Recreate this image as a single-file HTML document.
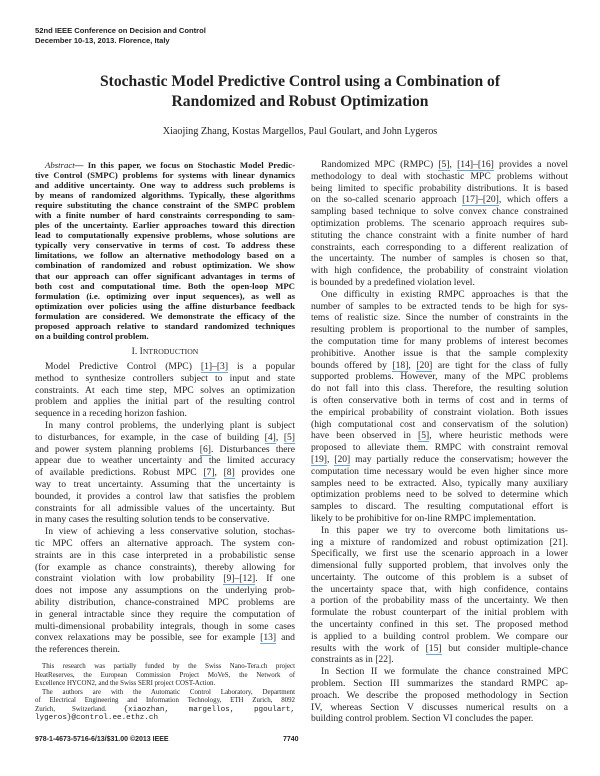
<!DOCTYPE html>
<html><head><meta charset="utf-8">
<style>
body{margin:0;background:#fff;width:600px;height:776px;position:relative;overflow:hidden;color:#222;}
.hd{position:absolute;left:35px;font:bold 7.6px "Liberation Sans",sans-serif;}
.t{position:absolute;left:0;width:600px;text-align:center;font:bold 15.6px "Liberation Serif",serif;}
.au{position:absolute;left:0;width:600px;text-align:center;font:10.2px "Liberation Serif",serif;}
.col{position:absolute;font:9.6px/11.8px "Liberation Serif",serif;}
.col div{text-align:justify;text-align-last:justify;white-space:nowrap;height:11.8px;}
.col div.e{text-align-last:left;}
.col div.i{padding-left:10px;}
.col.ab{font:bold 8.75px/10.06px "Liberation Serif",serif;}
.col.ab div{height:10.06px;}
u{text-decoration:none;border-bottom:1px solid #6aa7d8;}
.fn{position:absolute;left:35px;width:260px;font:6.9px/8.5px "Liberation Serif",serif;}
.fn div{text-align:justify;text-align-last:justify;white-space:nowrap;height:8.5px;}
.fn div.e{text-align-last:left;}
.fn div.i{padding-left:7px;}
.mono{font-family:"Liberation Mono",monospace;font-size:7.6px;}
</style></head><body>
<div class="hd" style="top:26px">52nd IEEE Conference on Decision and Control</div>
<div class="hd" style="top:36px">December 10-13, 2013. Florence, Italy</div>
<div class="t" style="top:73px">Stochastic Model Predictive Control using a Combination of</div>
<div class="t" style="top:93px">Randomized and Robust Optimization</div>
<div class="au" style="top:126px">Xiaojing Zhang, Kostas Margellos, Paul Goulart, and John Lygeros</div>

<div class="col ab" style="left:35px;top:160px;width:260px;">
<div class="i"><i style="font-weight:normal">Abstract</i>— In this paper, we focus on Stochastic Model Predic-</div>
<div>tive Control (SMPC) problems for systems with linear dynamics</div>
<div>and additive uncertainty. One way to address such problems is</div>
<div>by means of randomized algorithms. Typically, these algorithms</div>
<div>require substituting the chance constraint of the SMPC problem</div>
<div>with a finite number of hard constraints corresponding to sam-</div>
<div>ples of the uncertainty. Earlier approaches toward this direction</div>
<div>lead to computationally expensive problems, whose solutions are</div>
<div>typically very conservative in terms of cost. To address these</div>
<div>limitations, we follow an alternative methodology based on a</div>
<div>combination of randomized and robust optimization. We show</div>
<div>that our approach can offer significant advantages in terms of</div>
<div>both cost and computational time. Both the open-loop MPC</div>
<div>formulation (i.e. optimizing over input sequences), as well as</div>
<div>optimization over policies using the affine disturbance feedback</div>
<div>formulation are considered. We demonstrate the efficacy of the</div>
<div>proposed approach relative to standard randomized techniques</div>
<div class="e">on a building control problem.</div>
</div>

<div class="col" style="left:35px;top:346px;width:260px;"><div style="text-align:center;text-align-last:center">I. I<span style="font-size:7.7px">NTRODUCTION</span></div></div>

<div class="col" style="left:35px;top:361px;width:260px;">
<div class="i">Model Predictive Control (MPC) <u>[1]–[3]</u> is a popular</div>
<div>method to synthesize controllers subject to input and state</div>
<div>constraints. At each time step, MPC solves an optimization</div>
<div>problem and applies the initial part of the resulting control</div>
<div class="e">sequence in a receding horizon fashion.</div>
<div class="i">In many control problems, the underlying plant is subject</div>
<div>to disturbances, for example, in the case of building <u>[4]</u>, <u>[5]</u></div>
<div>and power system planning problems <u>[6]</u>. Disturbances there</div>
<div>appear due to weather uncertainty and the limited accuracy</div>
<div>of available predictions. Robust MPC <u>[7]</u>, <u>[8]</u> provides one</div>
<div>way to treat uncertainty. Assuming that the uncertainty is</div>
<div>bounded, it provides a control law that satisfies the problem</div>
<div>constraints for all admissible values of the uncertainty. But</div>
<div class="e">in many cases the resulting solution tends to be conservative.</div>
<div class="i">In view of achieving a less conservative solution, stochas-</div>
<div>tic MPC offers an alternative approach. The system con-</div>
<div>straints are in this case interpreted in a probabilistic sense</div>
<div>(for example as chance constraints), thereby allowing for</div>
<div>constraint violation with low probability <u>[9]–[12]</u>. If one</div>
<div>does not impose any assumptions on the underlying prob-</div>
<div>ability distribution, chance-constrained MPC problems are</div>
<div>in general intractable since they require the computation of</div>
<div>multi-dimensional probability integrals, though in some cases</div>
<div>convex relaxations may be possible, see for example <u>[13]</u> and</div>
<div class="e">the references therein.</div>
</div>

<div class="fn" style="top:663px;">
<div class="i">This research was partially funded by the Swiss Nano-Tera.ch project</div>
<div>HeatReserves, the European Commission Project MoVeS, the Network of</div>
<div class="e">Excellence HYCON2, and the Swiss SERI project COST-Action.</div>
<div class="i">The authors are with the Automatic Control Laboratory, Department</div>
<div>of Electrical Engineering and Information Technology, ETH Zurich, 8092</div>
<div>Zurich, Switzerland. <span class="mono">{xiaozhan, margellos, pgoulart,</span></div>
<div class="e"><span class="mono">lygeros}@control.ee.ethz.ch</span></div>
</div>

<div class="hd" style="top:736px;font-size:7px">978-1-4673-5716-6/13/$31.00 ©2013 IEEE</div>
<div class="hd" style="top:736px;left:283px;font-size:7px">7740</div>

<div class="col" style="left:311px;top:159px;width:257px;">
<div class="i">Randomized MPC (RMPC) <u>[5]</u>, <u>[14]–[16]</u> provides a novel</div>
<div>methodology to deal with stochastic MPC problems without</div>
<div>being limited to specific probability distributions. It is based</div>
<div>on the so-called scenario approach <u>[17]–[20]</u>, which offers a</div>
<div>sampling based technique to solve convex chance constrained</div>
<div>optimization problems. The scenario approach requires sub-</div>
<div>stituting the chance constraint with a finite number of hard</div>
<div>constraints, each corresponding to a different realization of</div>
<div>the uncertainty. The number of samples is chosen so that,</div>
<div>with high confidence, the probability of constraint violation</div>
<div class="e">is bounded by a predefined violation level.</div>
<div class="i">One difficulty in existing RMPC approaches is that the</div>
<div>number of samples to be extracted tends to be high for sys-</div>
<div>tems of realistic size. Since the number of constraints in the</div>
<div>resulting problem is proportional to the number of samples,</div>
<div>the computation time for many problems of interest becomes</div>
<div>prohibitive. Another issue is that the sample complexity</div>
<div>bounds offered by <u>[18]</u>, <u>[20]</u> are tight for the class of fully</div>
<div>supported problems. However, many of the MPC problems</div>
<div>do not fall into this class. Therefore, the resulting solution</div>
<div>is often conservative both in terms of cost and in terms of</div>
<div>the empirical probability of constraint violation. Both issues</div>
<div>(high computational cost and conservatism of the solution)</div>
<div>have been observed in <u>[5]</u>, where heuristic methods were</div>
<div>proposed to alleviate them. RMPC with constraint removal</div>
<div><u>[19]</u>, <u>[20]</u> may partially reduce the conservatism; however the</div>
<div>computation time necessary would be even higher since more</div>
<div>samples need to be extracted. Also, typically many auxiliary</div>
<div>optimization problems need to be solved to determine which</div>
<div>samples to discard. The resulting computational effort is</div>
<div class="e">likely to be prohibitive for on-line RMPC implementation.</div>
<div class="i">In this paper we try to overcome both limitations us-</div>
<div>ing a mixture of randomized and robust optimization [21].</div>
<div>Specifically, we first use the scenario approach in a lower</div>
<div>dimensional fully supported problem, that involves only the</div>
<div>uncertainty. The outcome of this problem is a subset of</div>
<div>the uncertainty space that, with high confidence, contains</div>
<div>a portion of the probability mass of the uncertainty. We then</div>
<div>formulate the robust counterpart of the initial problem with</div>
<div>the uncertainty confined in this set. The proposed method</div>
<div>is applied to a building control problem. We compare our</div>
<div>results with the work of <u>[15]</u> but consider multiple-chance</div>
<div class="e">constraints as in [22].</div>
<div class="i">In Section II we formulate the chance constrained MPC</div>
<div>problem. Section III summarizes the standard RMPC ap-</div>
<div>proach. We describe the proposed methodology in Section</div>
<div>IV, whereas Section V discusses numerical results on a</div>
<div class="e">building control problem. Section VI concludes the paper.</div>
</div>
</body></html>
